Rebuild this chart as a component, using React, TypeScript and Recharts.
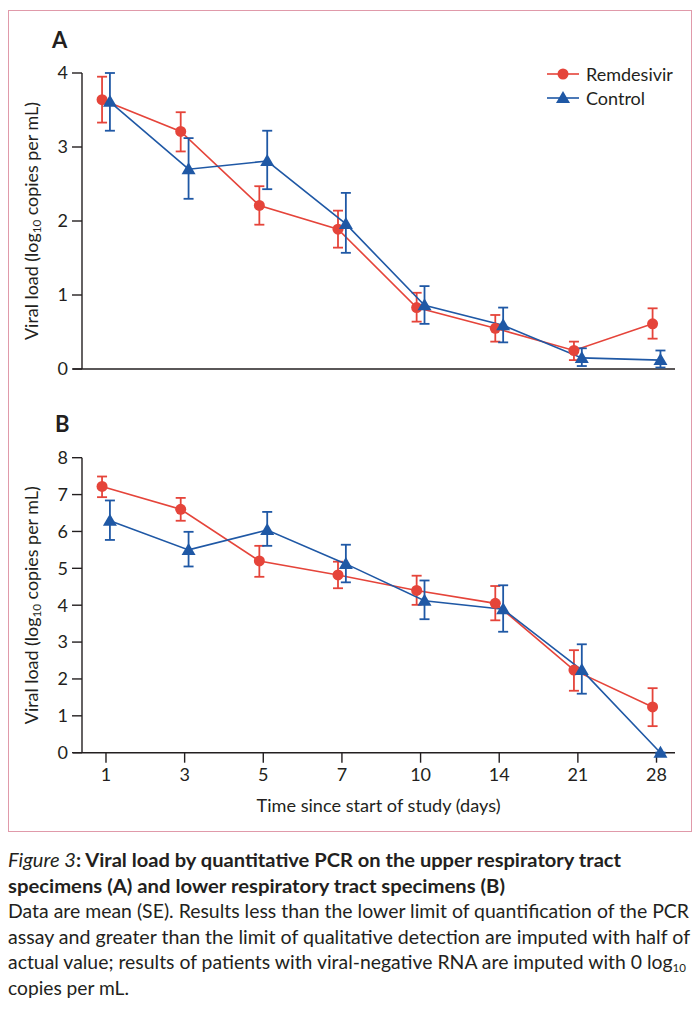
import React from 'react';
import { LineChart, Line, XAxis, YAxis, ErrorBar, ReferenceLine, Legend, Label } from 'recharts';

// days on the x axis (categories, evenly spaced)
const days = ['1', '3', '5', '7', '10', '14', '21', '28'];
const dayIdx = [0, 1, 2, 3, 4, 5, 6, 7];
const seriesNames = ['Remdesivir', 'Control'];

// panel A - upper respiratory tract
const remA = [3.64, 3.21, 2.21, 1.89, 0.83, 0.55, 0.25, 0.61];
const remAHi = [3.95, 3.47, 2.47, 2.14, 1.03, 0.73, 0.37, 0.82];
const remALo = [3.33, 2.94, 1.95, 1.64, 0.64, 0.37, 0.12, 0.41];
const ctlA = [3.61, 2.7, 2.81, 1.96, 0.86, 0.59, 0.15, 0.12];
const ctlAHi = [4.0, 3.12, 3.22, 2.38, 1.12, 0.83, 0.28, 0.25];
const ctlALo = [3.22, 2.3, 2.43, 1.57, 0.61, 0.36, 0.04, 0.02];
const ticksA = [0, 1, 2, 3, 4];

// panel B - lower respiratory tract
const remB = [7.22, 6.6, 5.2, 4.82, 4.4, 4.05, 2.24, 1.24];
const remBHi = [7.49, 6.91, 5.61, 5.18, 4.8, 4.52, 2.78, 1.75];
const remBLo = [6.93, 6.29, 4.77, 4.46, 4.01, 3.59, 1.68, 0.72];
const ctlB = [6.29, 5.5, 6.04, 5.12, 4.12, 3.89, 2.24, 0];
const ctlBHi = [6.84, 5.99, 6.53, 5.64, 4.67, 4.54, 2.94, 0];
const ctlBLo = [5.77, 5.05, 5.61, 4.62, 3.62, 3.28, 1.6, 0];
const ticksB = [0, 1, 2, 3, 4, 5, 6, 7, 8];

const RED = '#e5443a';
const BLUE = '#1f58a5';
const INK = '#231f20';
const FONT = 'Lato, "Open Sans", "Noto Sans", sans-serif';
const X_DOMAIN = [-0.305, 7.235];

// red points sit a little left of the tick, blue a little right
const rows = (mean: number[], hi: number[], lo: number[], shift: number) =>
  mean.map((v, i) => ({ x: dayIdx[i] + shift, v, err: [v - lo[i], hi[i] - v] }));

const Tri = (props: any) => {
  const { cx, cy, index } = props;
  if (cx == null || cy == null) return null;
  return <path key={'t' + index} d={`M${cx},${cy - 7}L${cx + 7},${cy + 5}L${cx - 7},${cy + 5}Z`} fill={BLUE} />;
};

const YTitle = ({ viewBox }: any) => {
  if (!viewBox) return null;
  const cy = viewBox.y + viewBox.height / 2;
  const x = 38;
  return (
    <text
      transform={`rotate(-90, ${x}, ${cy})`}
      x={x} y={cy}
      textAnchor="middle"
      textLength={238}
      lengthAdjust="spacingAndGlyphs"
      fontFamily={FONT} fontSize={17} fill={INK}
    >
      Viral load (log<tspan fontSize={11} dy={3}>10</tspan>
      <tspan dy={-3}> copies per mL)</tspan>
    </text>
  );
};

const XTitle = ({ viewBox }: any) => {
  if (!viewBox) return null;
  return (
    <text
      x={viewBox.x + viewBox.width / 2} y={viewBox.y + 59}
      textAnchor="middle" textLength={244} lengthAdjust="spacingAndGlyphs"
      fontFamily={FONT} fontSize={17.5} fill={INK}
    >
      Time since start of study (days)
    </text>
  );
};

const LegendBox = ({ payload }: any) => {
  const items = seriesNames
    .map((n) => (payload || []).find((p: any) => p.value === n))
    .filter(Boolean);
  return (
    <div style={{ fontFamily: FONT, fontSize: 18, color: INK }}>
      {items.map((p: any) => (
        <div key={p.value} style={{ display: 'flex', alignItems: 'center', height: 24 }}>
          <svg width={34} height={16}>
            <line x1={0} x2={32} y1={8} y2={8} stroke={p.color} strokeWidth={1.6} />
            {p.value === 'Remdesivir' ? (
              <circle cx={16} cy={8} r={5.5} fill={p.color} />
            ) : (
              <path d="M16,1L23,13L9,13Z" fill={p.color} />
            )}
          </svg>
          <span style={{ marginLeft: 5 }}>{p.value}</span>
        </div>
      ))}
    </div>
  );
};

const tickStyle = { fill: INK, fontSize: 18, fontFamily: FONT };

function Panel({ rem, ctl, yMax, yTicks, showLabels, height, margin, legend }: any) {
  return (
    <LineChart width={700} height={height} margin={margin}>
      <XAxis
        type="number"
        dataKey="x"
        domain={X_DOMAIN}
        ticks={dayIdx}
        interval={0}
        tickFormatter={(i: number) => days[i]}
        tick={showLabels ? tickStyle : false}
        tickSize={10}
        tickMargin={6}
        tickLine={{ stroke: INK, strokeWidth: 1.4 }}
        axisLine={false}
        height={showLabels ? 50 : 30}
      >
        {showLabels && <Label content={<XTitle />} />}
      </XAxis>
      <YAxis
        type="number"
        domain={[0, yMax]}
        ticks={yTicks}
        interval={0}
        width={60}
        tick={tickStyle}
        tickSize={10}
        tickMargin={4}
        tickLine={{ stroke: INK, strokeWidth: 1.4 }}
        axisLine={{ stroke: INK, strokeWidth: 1.4 }}
      >
        <Label content={<YTitle />} />
      </YAxis>
      <ReferenceLine
        segment={[{ x: -0.42, y: 0 }, { x: X_DOMAIN[1], y: 0 }]}
        stroke={INK}
        strokeWidth={1.4}
        ifOverflow="visible"
      />
      {legend && (
        <Legend
          layout="horizontal"
          verticalAlign="middle"
          align="center"
          content={<LegendBox />}
          wrapperStyle={{ left: 547, top: 62, width: 150 }}
        />
      )}
      <Line
        data={rem}
        dataKey="v"
        name={seriesNames[0]}
        stroke={RED}
        strokeWidth={1.6}
        dot={{ r: 5.5, fill: RED, stroke: RED, strokeWidth: 0 }}
        isAnimationActive={false}
      >
        <ErrorBar dataKey="err" direction="y" width={5} stroke={RED} strokeWidth={1.8} />
      </Line>
      <Line
        data={ctl}
        dataKey="v"
        name={seriesNames[1]}
        stroke={BLUE}
        strokeWidth={1.6}
        dot={<Tri />}
        isAnimationActive={false}
      >
        <ErrorBar dataKey="err" direction="y" width={5} stroke={BLUE} strokeWidth={1.8} />
      </Line>
    </LineChart>
  );
}

export default function App() {
  return (
    <div style={{ position: 'absolute', left: 0, top: 0, width: 700, height: 1021, background: '#fff', overflow: 'hidden' }}>
      <div
        style={{
          position: 'absolute', left: 8, top: 10, width: 684, height: 822,
          border: '1.5px solid #e09aaa', boxSizing: 'border-box',
        }}
      />
      <div style={{ position: 'absolute', left: 0, top: 0 }}>
        <Panel
          rem={rows(remA, remAHi, remALo, -0.05)}
          ctl={rows(ctlA, ctlAHi, ctlALo, 0.05)}
          yMax={4}
          yTicks={ticksA}
          showLabels={false}
          height={400}
          margin={{ top: 73, right: 25, bottom: 1, left: 22 }}
          legend
        />
      </div>
      <div style={{ position: 'absolute', left: 0, top: 400 }}>
        <Panel
          rem={rows(remB, remBHi, remBLo, -0.05)}
          ctl={rows(ctlB, ctlBHi, ctlBLo, 0.05)}
          yMax={8}
          yTicks={ticksB}
          showLabels
          height={430}
          margin={{ top: 57.7, right: 25, bottom: 27.3, left: 22 }}
          legend={false}
        />
      </div>
      <svg width={700} height={1021} style={{ position: 'absolute', left: 0, top: 0, pointerEvents: 'none' }}>
        <g fontFamily={FONT} fill={INK}>
          <text x={52} y={48} fontSize={22} fontWeight={700}>A</text>
          <text x={55} y={432} fontSize={22} fontWeight={700}>B</text>
          <g fontSize={18.5}>
            <text x={8} y={867} textLength={613} lengthAdjust="spacingAndGlyphs" fontWeight={700}>
              <tspan fontStyle="italic" fontWeight={400}>Figure 3</tspan>: Viral load by quantitative PCR on the upper respiratory tract
            </text>
            <text x={8} y={892.5} textLength={497} lengthAdjust="spacingAndGlyphs" fontWeight={700}>
              specimens (A) and lower respiratory tract specimens (B)
            </text>
            <text x={8} y={918} textLength={681} lengthAdjust="spacingAndGlyphs">
              Data are mean (SE). Results less than the lower limit of quantification of the PCR
            </text>
            <text x={8} y={943.5} textLength={682} lengthAdjust="spacingAndGlyphs">
              assay and greater than the limit of qualitative detection are imputed with half of
            </text>
            <text x={8} y={969} textLength={678} lengthAdjust="spacingAndGlyphs">
              actual value; results of patients with viral-negative RNA are imputed with 0 log<tspan fontSize={11} dy={3}>10</tspan>
            </text>
            <text x={8} y={994.5} textLength={121} lengthAdjust="spacingAndGlyphs">
              copies per mL.
            </text>
          </g>
        </g>
      </svg>
    </div>
  );
}
